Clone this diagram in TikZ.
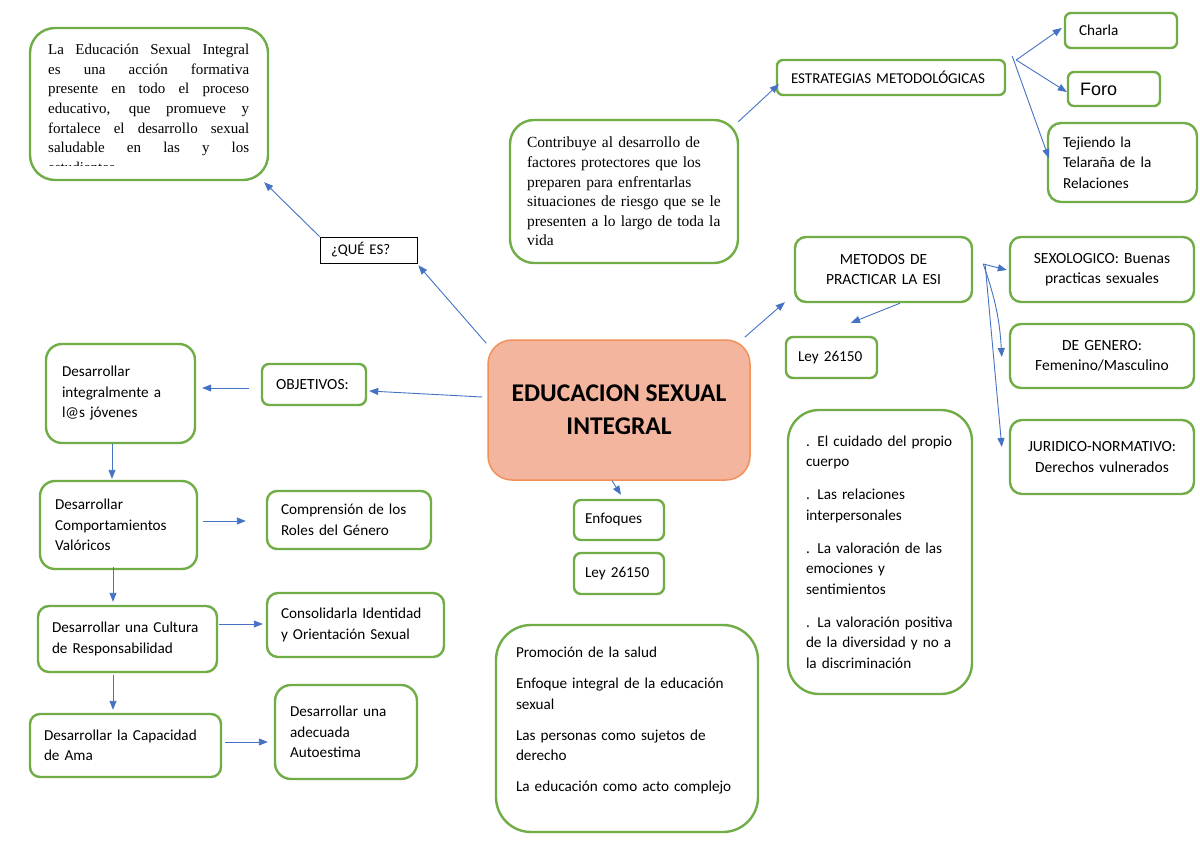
\documentclass[tikz,border=0pt]{standalone}
\usepackage{fontspec}
\setmainfont{Carlito}
\newfontfamily\serifa{Liberation Serif}
\newfontfamily\arialf{Liberation Sans}
\usetikzlibrary{arrows.meta,calc}
\definecolor{esigreen}{HTML}{70AD47}
\definecolor{esiblue}{HTML}{4472C4}
\definecolor{esisalmon}{HTML}{F4B59E}
\definecolor{esiorange}{HTML}{F0915A}
\begin{document}
\begin{tikzpicture}[x=1pt,y=-1pt,
  box/.style={draw=esigreen, line width=2.4pt, inner sep=0pt, align=left, font=\fontsize{15.2}{20.5}\selectfont},
  capsfont/.style={font=\fontsize{15.5}{20.5}\selectfont},
  link/.style={draw=esiblue, line width=0.9pt, -{Triangle[length=9pt,width=7pt]}}]
  \useasboundingbox[fill=white] (0,0) rectangle (1200,848);

  % que es
  \node[box, rounded corners=25pt, minimum width=238pt, minimum height=152pt] (def) at (149,104) {};
  \begin{scope}
    \clip (35,33) rectangle (263,166);
    \node[anchor=north west, inner sep=0pt, align=left, font=\serifa\fontsize{15}{19.6}\selectfont] (deftext) at (48,44)
      {\makebox[201pt][s]{La Educación Sexual Integral}\\
       \makebox[201pt][s]{es una acción formativa}\\
       \makebox[201pt][s]{presente en todo el proceso}\\
       \makebox[201pt][s]{educativo, que promueve y}\\
       \makebox[201pt][s]{fortalece el desarrollo sexual}\\
       \makebox[201pt][s]{saludable en las y los}\\
       estudiantes};
  \end{scope}
  \node[draw, line width=0.8pt, inner sep=0pt, minimum width=97pt, minimum height=26pt, text width=75pt, align=left, font=\fontsize{14.8}{18}\selectfont] (qes) at (368.5,250) {¿QUÉ ES?};

  % estrategias
  \node[box, rounded corners=24pt, minimum width=228pt, minimum height=143pt, text width=194pt, font=\serifa\fontsize{15.5}{19.6}\selectfont] (contrib) at (624,191.5)
    {Contribuye al desarrollo de\\ factores protectores que los\\ preparen para enfrentarlas\\ situaciones de riesgo que se le\\ presenten a lo largo de toda la\\ vida};
  \node[box, rounded corners=6pt, minimum width=228pt, minimum height=35pt, text width=200pt, font=\fontsize{15}{20}\selectfont] (estr) at (891,77.5) {ESTRATEGIAS METODOLÓGICAS};
  \node[box, rounded corners=6pt, minimum width=112pt, minimum height=35pt, text width=84pt] (charla) at (1121,30.5) {Charla};
  \node[box, rounded corners=6pt, minimum width=92pt, minimum height=34pt, text width=68pt, font=\arialf\fontsize{18}{20}\selectfont] (foro) at (1114,89) {Foro};
  \node[box, rounded corners=13pt, minimum width=149pt, minimum height=79pt, text width=119pt] (tej) at (1122.5,162.5) {Tejiendo la\\ Telaraña de la\\ Relaciones};

  % metodos
  \node[box, rounded corners=11pt, minimum width=177pt, minimum height=65pt, text width=150pt, align=center, capsfont] (met) at (883.5,269.5) {METODOS DE\\ PRACTICAR LA ESI};
  \node[box, rounded corners=11pt, minimum width=184pt, minimum height=65pt, text width=176pt, align=center, capsfont] (sexo) at (1102,269.5) {SEXOLOGICO: Buenas\\ practicas sexuales};
  \node[box, rounded corners=11pt, minimum width=184pt, minimum height=64pt, text width=176pt, align=center, capsfont] (gen) at (1102,356) {DE GENERO:\\ Femenino/Masculino};
  \node[box, rounded corners=12pt, minimum width=184pt, minimum height=74pt, text width=176pt, align=center, capsfont] (jur) at (1102,457) {JURIDICO-NORMATIVO:\\ Derechos vulnerados};
  \node[box, rounded corners=7pt, minimum width=91pt, minimum height=41pt, text width=67pt] (ley1) at (831.5,357.5) {Ley 26150};
  \node[box, rounded corners=31pt, minimum width=184pt, minimum height=284pt, text width=148pt] (bul) at (880,552)
    {. El cuidado del propio\\ cuerpo\\[12.5pt] . Las relaciones\\ interpersonales\\[12.5pt] . La valoración de las\\ emociones y\\ sentimientos\\[12.5pt] . La valoración positiva\\ de la diversidad y no a\\ la discriminación};

  % centro
  \node[draw=esiorange, fill=esisalmon, line width=1.5pt, rounded corners=24pt, inner sep=0pt, minimum width=262pt, minimum height=140pt, align=center, font=\bfseries\fontsize{25.5}{33}\selectfont] (esi) at (619,410) {EDUCACION SEXUAL\\ INTEGRAL};
  \node[box, rounded corners=7pt, minimum width=90pt, minimum height=40pt, text width=68pt] (enf) at (619,520) {Enfoques};
  \node[box, rounded corners=7pt, minimum width=90pt, minimum height=41pt, text width=68pt] (ley2) at (619,573.5) {Ley 26150};
  \node[box, rounded corners=35pt, minimum width=262pt, minimum height=207pt, text width=222pt] (prom) at (627,728.5)
    {Promoción de la salud\\[10.5pt] Enfoque integral de la educación\\ sexual\\[10.5pt] Las personas como sujetos de\\ derecho\\[10.5pt] La educación como acto complejo\\[-2pt]\mbox{}};

  % objetivos
  \node[box, rounded corners=7pt, minimum width=104pt, minimum height=41pt, text width=76pt, capsfont] (obj) at (314,384.5) {OBJETIVOS:};
  \node[box, rounded corners=16pt, minimum width=149pt, minimum height=99pt, text width=117pt] (integ) at (120.5,393.5) {Desarrollar\\ integralmente a\\ l@s jóvenes};
  \node[box, rounded corners=15pt, minimum width=157pt, minimum height=88pt, text width=127pt] (comp) at (118.5,525) {Desarrollar\\ Comportamientos\\ Valóricos};
  \node[box, rounded corners=10pt, minimum width=164pt, minimum height=58pt, text width=136pt] (rol) at (349,520) {Comprensión de los\\ Roles del Género};
  \node[box, rounded corners=11pt, minimum width=179pt, minimum height=66pt, text width=151pt] (cult) at (127.5,639) {Desarrollar una Cultura\\ de Responsabilidad};
  \node[box, rounded corners=11pt, minimum width=177pt, minimum height=64pt, text width=149pt] (ident) at (355.5,625) {Consolidarla Identidad\\ y Orientación Sexual};
  \node[box, rounded corners=10pt, minimum width=191pt, minimum height=63pt, text width=163pt] (ama) at (125.5,745.5) {Desarrollar la Capacidad\\ de Ama};
  \node[box, rounded corners=16pt, minimum width=142pt, minimum height=94pt, text width=112pt] (auto) at (346,732) {Desarrollar una\\ adecuada\\ Autoestima};

  % conectores
  \draw[link] ($(esi.north west)+(-1,4)$) -- ($(qes.south east)+(1,2)$);
  \draw[link] (qes.north west) -- ($(def.south east)+(-5,1)$);
  \draw[link] ($(esi.west)+(-5,-13)$) -- ($(obj.east)+(2,6.5)$);
  \draw[link] ($(obj.west)+(-12,3.5)$) -- ($(integ.east)+(6,-5.5)$);
  \draw[link] ($(integ.south)+(-8.5,0)$) -- ($(comp.north)+(-6.5,-1)$);
  \draw[link] ($(comp.east)+(5,-4)$) -- ($(rol.west)+(-20,1)$);
  \draw[link] ($(comp.south)+(-5.5,-3)$) -- ($(cult.north)+(-14.5,-3)$);
  \draw[link] ($(cult.east)+(1,-15)$) -- ($(ident.west)+(-3,-1)$);
  \draw[link] ($(cult.south)+(-14.5,2)$) -- ($(ama.north)+(-12.5,-3)$);
  \draw[link] ($(ama.east)+(3,-3.5)$) -- ($(auto.west)+(-6,10)$);
  \draw[link] ($(esi.south)+(-7,0)$) -- ($(enf.north)+(2,-4)$);
  \draw[link] ($(esi.north east)+(-6,-2)$) -- ($(met.south west)+(-9,-1)$);
  \draw[link] ($(met.south)+(16.5,0)$) -- ($(ley1.north)+(19.5,-13)$);
  \draw[link] ($(met.east)+(10,-5.5)$) -- ($(sexo.west)+(-2,0.5)$);
  \draw[link] ($(met.east)+(10,-5.5)$) to[bend left=8] ($(gen.west)+(-7,1)$);
  \draw[link] ($(met.east)+(12,-4.5)$) -- ($(jur.west)+(-7,-10)$);
  \draw[link] ($(contrib.north east)+(-1,3)$) -- ($(estr.south west)+(3,-12)$);
  \draw[link] ($(estr.east)+(10,-17.5)$) -- ($(charla.west)+(-2,-2.5)$);
  \draw[link] ($(estr.east)+(10,-17.5)$) -- ($(foro.west)+(0,3)$);
  \draw[link] ($(estr.east)+(6,-21.5)$) -- ($(tej.west)+(2,-4.5)$);
\end{tikzpicture}
\end{document}
